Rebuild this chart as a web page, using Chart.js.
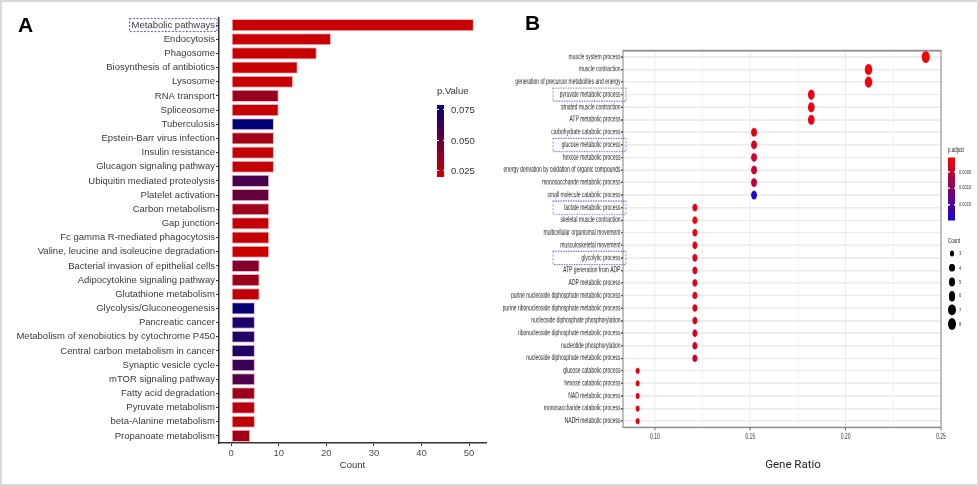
<!DOCTYPE html>
<html lang="en">
<head>
<meta charset="UTF-8">
<title>KEGG pathway and GO enrichment</title>
<script src="https://cdn.jsdelivr.net/npm/chart.js"></script>
<style>
    html, body { margin: 0; padding: 0; background: #fff; }
    #fig {
        position: relative;
        width: 979px;
        height: 486px;
        overflow: hidden;
        font-family: 'Liberation Sans', Arial, sans-serif;
        color: #333;
    }
    #frame {
        position: absolute; left: 0; top: 0; width: 979px; height: 486px;
        box-sizing: border-box; border: 2px solid #d9d9d9;
        pointer-events: none; z-index: 10;
    }
    .panel-letter {
        position: absolute; font-weight: bold; font-size: 21px; line-height: 21px; color: #000;
    }
    #panelA { position: absolute; left: 0; top: 0; width: 490px; height: 486px; }
    #panelB {
        position: absolute; left: 480px; top: 0; width: 499px; height: 324px;
        transform: scaleY(1.5); transform-origin: 0 0;
    }
    .chart-box { position: absolute; left: 0; top: 0; width: 100%; height: 100%; }
    .abs { position: absolute; white-space: nowrap; }
    .bar-tick { position: absolute; background: #fff; height: 1px; width: 1.5px; }
    #geneRatio {
        position: absolute; left: 733px; width: 120px; top: 457px; text-align: center;
        font-family: Roboto, sans-serif; font-size: 11.5px; color: #222;
    }
</style>
</head>
<body>
<div id="fig">
    <div id="panelA"><div class="chart-box"><canvas id="chartA"></canvas></div></div>
    <div id="legendA"></div>

    <div id="panelB">
        <div class="chart-box"><canvas id="chartB"></canvas></div>
        <div id="legendB"></div>
    </div>

    <div class="panel-letter" style="left:18px; top:14px;">A</div>
    <div class="panel-letter" style="left:525px; top:12px;">B</div>
    <div id="geneRatio">Gene Ratio</div>
    <div id="frame"></div>
</div>

<script>
    // ---- panel A: KEGG pathways ----
    const keggTerms = [
        'Metabolic pathways', 'Endocytosis', 'Phagosome', 'Biosynthesis of antibiotics', 'Lysosome',
        'RNA transport', 'Spliceosome', 'Tuberculosis', 'Epstein-Barr virus infection', 'Insulin resistance',
        'Glucagon signaling pathway', 'Ubiquitin mediated proteolysis', 'Platelet activation', 'Carbon metabolism',
        'Gap junction', 'Fc gamma R-mediated phagocytosis', 'Valine, leucine and isoleucine degradation',
        'Bacterial invasion of epithelial cells', 'Adipocytokine signaling pathway', 'Glutathione metabolism',
        'Glycolysis/Gluconeogenesis', 'Pancreatic cancer', 'Metabolism of xenobiotics by cytochrome P450',
        'Central carbon metabolism in cancer', 'Synaptic vesicle cycle', 'mTOR signaling pathway',
        'Fatty acid degradation', 'Pyruvate metabolism', 'beta-Alanine metabolism', 'Propanoate metabolism'
    ];
    const keggCounts = [51, 21, 18, 14, 13, 10, 10, 9, 9, 9, 9, 8, 8, 8, 8, 8, 8, 6, 6, 6, 5, 5, 5, 5, 5, 5, 5, 5, 5, 4];
    const keggPValues = [
        0.0215, 0.0221, 0.0215, 0.0215, 0.0221, 0.0350, 0.0232, 0.0790, 0.0320, 0.0227,
        0.0227, 0.0585, 0.0497, 0.0332, 0.0232, 0.0227, 0.0205, 0.0415, 0.0340, 0.0238,
        0.0780, 0.0720, 0.0697, 0.0703, 0.0626, 0.0556, 0.0340, 0.0262, 0.0238, 0.0320
    ];
    const keggHighlight = ['Metabolic pathways'];
    const countTicks = [0, 10, 20, 30, 40, 50];
    const pValueTicks = [0.075, 0.050, 0.025];
    const pValueRange = [0.0203, 0.0791];

    // ---- panel B: GO biological process ----
    const goTerms = [
        'muscle system process', 'muscle contraction', 'generation of precursor metabolites and energy',
        'pyruvate metabolic process', 'striated muscle contraction', 'ATP metabolic process',
        'carbohydrate catabolic process', 'glucose metabolic process', 'hexose metabolic process',
        'energy derivation by oxidation of organic compounds', 'monosaccharide metabolic process',
        'small molecule catabolic process', 'lactate metabolic process', 'skeletal muscle contraction',
        'multicellular organismal movement', 'musculoskeletal movement', 'glycolytic process',
        'ATP generation from ADP', 'ADP metabolic process', 'purine nucleoside diphosphate metabolic process',
        'purine ribonucleoside diphosphate metabolic process', 'nucleoside diphosphate phosphorylation',
        'ribonucleoside diphosphate metabolic process', 'nucleotide phosphorylation',
        'nucleoside diphosphate metabolic process', 'glucose catabolic process', 'hexose catabolic process',
        'NAD metabolic process', 'monosaccharide catabolic process', 'NADH metabolic process'
    ];
    const goGeneRatio = [
        0.242, 0.212, 0.212, 0.182, 0.182, 0.182, 0.152, 0.152, 0.152, 0.152, 0.152, 0.152,
        0.121, 0.121, 0.121, 0.121, 0.121, 0.121, 0.121, 0.121, 0.121, 0.121, 0.121, 0.121, 0.121,
        0.091, 0.091, 0.091, 0.091, 0.091
    ];
    const goCounts = [8, 7, 7, 6, 6, 6, 5, 5, 5, 5, 5, 5, 4, 4, 4, 4, 4, 4, 4, 4, 4, 4, 4, 4, 4, 3, 3, 3, 3, 3];
    const goPAdjust = [
        0.00012, 0.00016, 0.00016, 0.00020, 0.00020, 0.00023, 0.00025, 0.00035, 0.00039, 0.00047,
        0.00055, 0.00190, 0.00014, 0.00012, 0.00020, 0.00023, 0.00027, 0.00029, 0.00029, 0.00031,
        0.00031, 0.00033, 0.00033, 0.00035, 0.00045, 0.00023, 0.00023, 0.00023, 0.00023, 0.00023
    ];
    const goHighlight = ['pyruvate metabolic process', 'glucose metabolic process', 'lactate metabolic process', 'glycolytic process'];
    const ratioTicks = [0.10, 0.125, 0.15, 0.175, 0.20, 0.225, 0.25];
    const ratioLabels = ['0.10', '', '0.15', '', '0.20', '', '0.25'];
    const pAdjustTicks = [0.0005, 0.0010, 0.0015];
    const pAdjustRange = [0.00006, 0.0020];
    const countLegend = [3, 4, 5, 6, 7, 8];

    // colour scales
    function mix(a, b, t) {
        t = Math.max(0, Math.min(1, t));
        return 'rgb(' + a.map((v, k) => Math.round(v + (b[k] - v) * t)).join(',') + ')';
    }
    const pLow = [204, 0, 0], pHigh = [0, 0, 120];
    const aLow = [255, 0, 0], aHigh = [20, 0, 220];
    const pColour = p => mix(pLow, pHigh, (p - pValueRange[0]) / (pValueRange[1] - pValueRange[0]));
    const adjColour = p => mix(aLow, aHigh, (p - pAdjustRange[0]) / (pAdjustRange[1] - pAdjustRange[0]));
    const dotRadius = c => Math.sqrt(4 + (c - 3) * 2.4);

    // dashed boxes round highlighted labels
    const labelBoxes = {
        id: 'labelBoxes',
        afterDraw(chart, args, o) {
            const ys = chart.scales.y, ctx = chart.ctx;
            ctx.save();
            ctx.setLineDash(o.dash);
            ctx.strokeStyle = o.color;
            ctx.lineWidth = o.width;
            ctx.font = o.font;
            o.items.forEach(label => {
                const py = ys.getPixelForValue(ys.getLabels().indexOf(label));
                let x0 = o.left, x1 = o.right;
                if (o.fit) {
                    x1 = ys.right - 2;
                    x0 = ys.right - 4 - ctx.measureText(label).width - 2;
                }
                ctx.strokeRect(x0, py - o.half, x1 - x0, o.half * 2);
            });
            ctx.restore();
        }
    };
    const plotFrame = {
        id: 'plotFrame',
        afterDraw(chart) {
            const a = chart.chartArea, ctx = chart.ctx;
            ctx.save();
            ctx.strokeStyle = '#808080';
            ctx.lineWidth = 1;
            ctx.strokeRect(a.left, a.top, a.right - a.left, a.bottom - a.top);
            ctx.restore();
        }
    };

    const fontA = { family: "'Liberation Sans', Arial, sans-serif", size: 9.5 };

    new Chart(document.getElementById('chartA'), {
        type: 'bar',
        data: {
            labels: keggTerms,
            datasets: [{
                label: 'Count',
                data: keggCounts,
                backgroundColor: keggPValues.map(pColour),
                borderColor: '#f2b4bc',
                borderWidth: 1,
                borderSkipped: false,
                barPercentage: 0.86,
                categoryPercentage: 1
            }]
        },
        options: {
            indexAxis: 'y',
            responsive: true,
            maintainAspectRatio: false,
            animation: false,
            layout: { padding: { top: 18, right: 4, bottom: 15, left: 0 } },
            plugins: {
                legend: { display: false },
                tooltip: { enabled: false },
                labelBoxes: { items: keggHighlight, fit: true, half: 6.5, dash: [2, 1.5], color: '#5a5ae0', width: 1, font: "9.5px 'Liberation Sans'" }
            },
            scales: {
                x: {
                    type: 'linear', min: -2.55, max: 53.55,
                    afterBuildTicks: s => { s.ticks = countTicks.map(v => ({ value: v })); },
                    ticks: { font: fontA, color: '#4d4d4d', padding: 2, maxRotation: 0 },
                    grid: { drawOnChartArea: false, drawTicks: true, tickLength: 3, color: '#333', lineWidth: 1 },
                    border: { display: true, color: '#333', width: 1.5 },
                    title: { display: true, text: 'Count', font: fontA, color: '#333', padding: { top: 0, bottom: 0 } },
                    afterFit: s => { s.height = 28; }
                },
                y: {
                    type: 'category', offset: true,
                    ticks: { font: fontA, color: '#3a3a3a', padding: 1, autoSkip: false },
                    grid: { offset: false, drawOnChartArea: false, drawTicks: true, tickLength: 3, color: '#333', lineWidth: 1 },
                    border: { display: true, color: '#333', width: 1.5 },
                    afterFit: s => { s.width = 219; }
                }
            }
        },
        plugins: [labelBoxes]
    });

    const fontB = { family: "'Liberation Sans', Arial, sans-serif", size: 5 };

    new Chart(document.getElementById('chartB'), {
        type: 'scatter',
        data: {
            datasets: [{
                label: 'GO',
                data: goTerms.map((t, i) => ({ x: goGeneRatio[i], y: t })),
                pointRadius: goCounts.map(dotRadius),
                pointHoverRadius: goCounts.map(dotRadius),
                backgroundColor: goPAdjust.map(adjColour),
                borderWidth: 0
            }]
        },
        options: {
            responsive: true,
            maintainAspectRatio: false,
            animation: false,
            devicePixelRatio: 2,
            layout: { padding: { top: 33.8, right: 38, bottom: 0, left: 0 } },
            plugins: {
                legend: { display: false },
                tooltip: { enabled: false },
                labelBoxes: { items: goHighlight, fit: false, left: 73, right: 146, half: 4.4, dash: [1.5, 1], color: '#6a6ae8', width: 0.7 }
            },
            scales: {
                x: {
                    type: 'linear', min: 0.0833, max: 0.25,
                    afterBuildTicks: s => { s.ticks = ratioTicks.map(v => ({ value: v })); },
                    ticks: { font: fontB, color: '#333', padding: 1, maxRotation: 0, callback: (v, i) => ratioLabels[i] },
                    grid: {
                        color: c => (c.index % 2 ? '#f5f5f5' : '#ebebeb'),
                        tickColor: c => (c.index % 2 ? 'rgba(0,0,0,0)' : '#666'),
                        lineWidth: 1, drawTicks: true, tickLength: 2
                    },
                    border: { display: false },
                    afterFit: s => { s.height = 39.1; }
                },
                y: {
                    type: 'category', labels: goTerms, offset: true,
                    ticks: { font: fontB, color: '#262626', padding: 0.5, autoSkip: false },
                    grid: { color: '#ebebeb', tickColor: '#555', lineWidth: 1, drawTicks: true, tickLength: 2 },
                    border: { display: false },
                    afterFit: s => { s.width = 143; }
                }
            }
        },
        plugins: [labelBoxes, plotFrame]
    });

    // ---- legends ----
    function addEl(parent, cls, style, text) {
        const d = document.createElement('div');
        d.className = cls;
        Object.assign(d.style, style);
        if (text !== undefined) d.textContent = text;
        parent.appendChild(d);
        return d;
    }

    // p.Value colour bar (panel A)
    const legA = document.getElementById('legendA');
    const barA = { left: 437, top: 105, w: 7, h: 71.7 };
    addEl(legA, 'abs', { left: '437px', top: '85px', fontSize: '9.5px', lineHeight: '11px' }, 'p.Value');
    addEl(legA, 'abs', {
        left: barA.left + 'px', top: barA.top + 'px', width: barA.w + 'px', height: barA.h + 'px',
        background: 'linear-gradient(to bottom, rgb(' + pHigh + '), rgb(' + pLow + '))'
    });
    pValueTicks.forEach(p => {
        const y = barA.top + (pValueRange[1] - p) / (pValueRange[1] - pValueRange[0]) * barA.h;
        addEl(legA, 'bar-tick', { left: barA.left + 'px', top: (y - 0.5) + 'px' });
        addEl(legA, 'bar-tick', { left: (barA.left + barA.w - 1.5) + 'px', top: (y - 0.5) + 'px' });
        addEl(legA, 'abs', { left: '451px', top: (y - 5.5) + 'px', fontSize: '9.5px', lineHeight: '11px' }, p.toFixed(3));
    });

    // p.adjust colour bar and Count size legend (panel B, unscaled coordinates)
    const legB = document.getElementById('legendB');
    const barB = { left: 468, top: 105.3, w: 7, h: 41.4 };
    addEl(legB, 'abs', { left: '468px', top: '97.3px', fontSize: '4.5px', lineHeight: '5px', color: '#222' }, 'p.adjust');
    addEl(legB, 'abs', {
        left: barB.left + 'px', top: barB.top + 'px', width: barB.w + 'px', height: barB.h + 'px',
        background: 'linear-gradient(to bottom, rgb(' + aLow + '), rgb(' + aHigh + '))'
    });
    pAdjustTicks.forEach(p => {
        const y = barB.top + (p - pAdjustRange[0]) / (pAdjustRange[1] - pAdjustRange[0]) * barB.h;
        addEl(legB, 'bar-tick', { left: barB.left + 'px', top: (y - 0.3) + 'px', height: '0.6px' });
        addEl(legB, 'bar-tick', { left: (barB.left + barB.w - 1.5) + 'px', top: (y - 0.3) + 'px', height: '0.6px' });
        addEl(legB, 'abs', { left: '479px', top: (y - 2) + 'px', fontSize: '4px', lineHeight: '4px', color: '#333' }, p.toFixed(4));
    });
    addEl(legB, 'abs', { left: '468px', top: '157.5px', fontSize: '4.5px', lineHeight: '5px', color: '#222' }, 'Count');
    countLegend.forEach((c, i) => {
        const r = dotRadius(c), y = 169.3 + i * 9.3;
        addEl(legB, 'abs', {
            left: (472 - r) + 'px', top: (y - r) + 'px', width: (2 * r) + 'px', height: (2 * r) + 'px',
            borderRadius: '50%', background: '#000'
        });
        addEl(legB, 'abs', { left: '479px', top: (y - 2) + 'px', fontSize: '4px', lineHeight: '4px', color: '#333' }, String(c));
    });
</script>
</body>
</html>
